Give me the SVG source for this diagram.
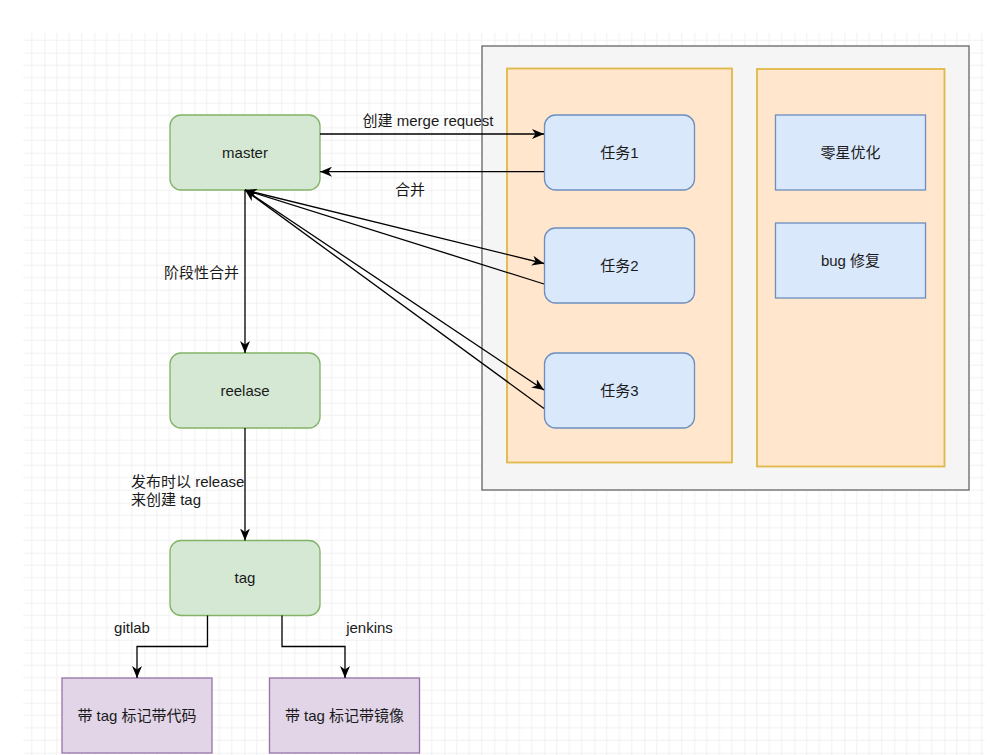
<svg xmlns="http://www.w3.org/2000/svg" width="990" height="755" viewBox="0 0 990 755">
<defs>
<pattern id="grid" patternUnits="userSpaceOnUse" x="44.3" y="52.7" width="50" height="50">
<path d="M12.5 0V50M25 0V50M37.5 0V50M0 12.5H50M0 25H50M0 37.5H50" stroke="#f1f1f1" stroke-width="1" fill="none"/>
<path d="M0 0V50M0 0H50" stroke="#e6e6e6" stroke-width="1" fill="none"/>
</pattern>
<marker id="arr" viewBox="0 0 12 10" refX="12" refY="5" markerWidth="12" markerHeight="10" markerUnits="userSpaceOnUse" orient="auto">
<path d="M0,0 L12,5 L0,10 L3.5,5 Z" fill="#000"/>
</marker>
<style>
text{font-family:"Liberation Sans","Noto Sans CJK SC",sans-serif;font-size:15px;fill:#1a1a1a}
.c{text-anchor:middle}
.green{fill:#d5e8d4;stroke:#82b366;stroke-width:1.3}
.blue{fill:#dae8fc;stroke:#6c8ebf;stroke-width:1.3}
.orange{fill:#ffe6cc;stroke:#e0b848;stroke-width:1.8}
.purple{fill:#e1d5e7;stroke:#9673a6;stroke-width:1.3}
.gray{fill:#f5f5f5;stroke:#666;stroke-width:1.3}
.edge{fill:none;stroke:#000;stroke-width:1.3;marker-end:url(#arr)}
</style>
</defs>
<rect width="990" height="755" fill="#fff"/>
<rect x="23" y="33" width="962" height="722" fill="url(#grid)"/>

<g id="container">
<rect class="gray" x="482" y="46" width="487" height="444"/>
</g>
<g id="lane-tasks">
<rect class="orange" x="507" y="68.5" width="225" height="394"/>
</g>
<g id="lane-misc">
<rect class="orange" x="757" y="69" width="187.5" height="397.5"/>
</g>

<g id="master">
<rect class="green" x="170" y="115" width="150" height="75" rx="11"/>
<text class="c" x="245" y="158">master</text>
</g>
<g id="reelase">
<rect class="green" x="170" y="353" width="150" height="75" rx="11"/>
<text class="c" x="245" y="396">reelase</text>
</g>
<g id="tag">
<rect class="green" x="170" y="540.5" width="150" height="75" rx="11"/>
<text class="c" x="245" y="583">tag</text>
</g>
<g id="code">
<rect class="purple" x="62" y="678" width="150" height="75"/>
<text class="c" x="137" y="721">带 tag 标记带代码</text>
</g>
<g id="image">
<rect class="purple" x="269.5" y="678" width="150" height="75"/>
<text class="c" x="344.5" y="721">带 tag 标记带镜像</text>
</g>
<g id="task1">
<rect class="blue" x="544.5" y="115" width="150" height="75" rx="11"/>
<text class="c" x="619.5" y="158">任务1</text>
</g>
<g id="task2">
<rect class="blue" x="544.5" y="228" width="150" height="75" rx="11"/>
<text class="c" x="619.5" y="271">任务2</text>
</g>
<g id="task3">
<rect class="blue" x="544.5" y="353" width="150" height="75" rx="11"/>
<text class="c" x="619.5" y="396">任务3</text>
</g>
<g id="opt">
<rect class="blue" x="775.5" y="115" width="150" height="75"/>
<text class="c" x="850.5" y="158">零星优化</text>
</g>
<g id="bugfix">
<rect class="blue" x="775.5" y="223" width="150" height="75"/>
<text class="c" x="850.5" y="266">bug 修复</text>
</g>

<g id="connectors">
<path class="edge" d="M320 134H544"/>
<path class="edge" d="M544 171.7H320"/>
<path class="edge" d="M245 190V353"/>
<path class="edge" d="M245 190L544 263.5"/>
<path class="edge" d="M544 284L245 190"/>
<path class="edge" d="M245 190L544 390"/>
<path class="edge" d="M544 408.5L245 190"/>
<path class="edge" d="M245 428V540.5"/>
<path class="edge" d="M207.5 615.5V646.5H137V678"/>
<path class="edge" d="M282 615.5V646.5H345V678"/>
<text class="c" x="428" y="126">创建 merge request</text>
<text class="c" x="410" y="195">合并</text>
<text class="c" x="201.5" y="277.5">阶段性合并</text>
<text x="131" y="487">发布时以 release</text>
<text x="131" y="505">来创建 tag</text>
<text class="c" x="132" y="633">gitlab</text>
<text class="c" x="369.5" y="633">jenkins</text>
</g>
</svg>
